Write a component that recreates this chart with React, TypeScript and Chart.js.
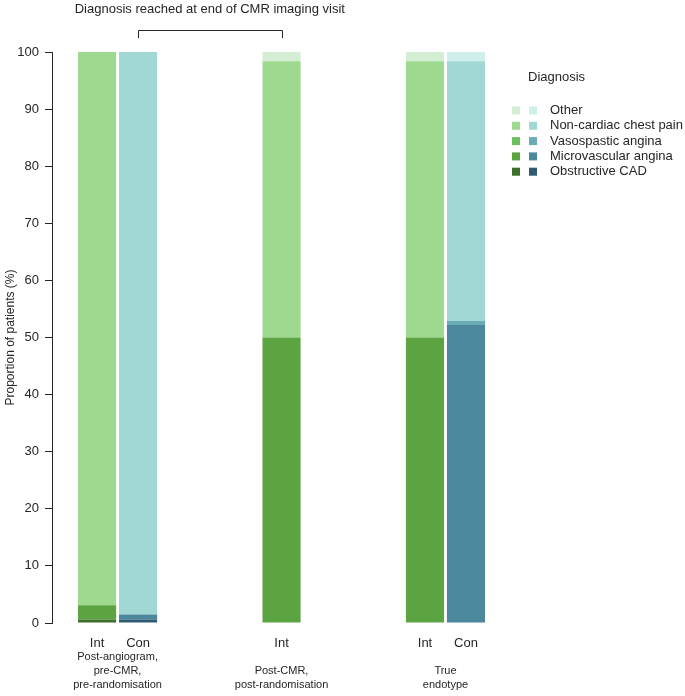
import React, { useRef, useEffect } from 'react';
import { Chart, registerables } from 'chart.js';

Chart.register(...registerables);

// bar slots on a linear x axis (units of one bar width + gap)
const barPositions = [0, 1, 4.5, 8, 9];
const barLabels = ['Int', 'Con', 'Int', 'Int', 'Con'];
const groupPositions = [0.5, 4.5, 8.5];
const groupLabels = [
  ['Post-angiogram,', 'pre-CMR,', 'pre-randomisation'],
  ['', 'Post-CMR,', 'post-randomisation'],
  ['', 'True', 'endotype'],
];

// proportions (%) per bar, bottom to top of each stack
const obstructiveCAD = [0.6, 0.6, 0, 0, 0];
const microvascularAngina = [2.5, 0.9, 50.0, 50.0, 52.2];
const vasospasticAngina = [0, 0, 0, 0, 0.7];
const nonCardiacChestPain = [96.9, 98.5, 48.4, 48.4, 45.5];
const otherDiagnosis = [0, 0, 1.6, 1.6, 1.6];

const diagnosisNames = [
  'Obstructive CAD',
  'Microvascular angina',
  'Vasospastic angina',
  'Non-cardiac chest pain',
  'Other',
];
const intColours = ['#3e6e2b', '#5ca341', '#6cc05b', '#9dda8f', '#d3eed2'];
const conColours = ['#2e5a74', '#4c889c', '#6aabb6', '#a1d7d4', '#d0efec'];

const chartTitle = 'Diagnosis reached at end of CMR imaging visit';
const legendTitle = 'Diagnosis';

const FONT = "'Liberation Sans', Arial, sans-serif";
const INK = '#262626';

const overlayPlugin = {
  id: 'overlay',
  afterDraw(chart: any) {
    const ctx = chart.ctx as CanvasRenderingContext2D;
    const xs = chart.scales.x;
    ctx.save();

    // bracket + title over the first comparison
    const x1 = xs.getPixelForValue(barPositions[1]);
    const x2 = xs.getPixelForValue(barPositions[2]);
    ctx.strokeStyle = INK;
    ctx.lineWidth = 1;
    ctx.beginPath();
    ctx.moveTo(Math.round(x1) + 0.5, 38);
    ctx.lineTo(Math.round(x1) + 0.5, 30.5);
    ctx.lineTo(Math.round(x2) + 0.5, 30.5);
    ctx.lineTo(Math.round(x2) + 0.5, 38);
    ctx.stroke();

    ctx.fillStyle = INK;
    ctx.font = `13px ${FONT}`;
    ctx.textAlign = 'center';
    ctx.textBaseline = 'middle';
    ctx.fillText(chartTitle, (x1 + x2) / 2, 9);

    // legend with two swatch columns (Int green, Con blue)
    ctx.textAlign = 'left';
    ctx.fillText(legendTitle, 528, 77);
    const rowTop = 110.5;
    const rowGap = 15.3;
    for (let k = diagnosisNames.length - 1, r = 0; k >= 0; k--, r++) {
      const cy = rowTop + r * rowGap;
      ctx.fillStyle = intColours[k];
      ctx.fillRect(512, cy - 4, 8, 8);
      ctx.fillStyle = conColours[k];
      ctx.fillRect(529, cy - 4, 8, 8);
      ctx.fillStyle = INK;
      ctx.fillText(diagnosisNames[k], 550, cy);
    }
    ctx.restore();
  },
};

const App: React.FC = () => {
  const chartRef = useRef<HTMLCanvasElement>(null);
  const chartInstance = useRef<Chart | null>(null);

  useEffect(() => {
    if (!chartRef.current) return;
    const ctx = chartRef.current.getContext('2d');
    if (!ctx) return;
    if (chartInstance.current) chartInstance.current.destroy();

    Chart.defaults.font.family = FONT;
    Chart.defaults.color = INK;

    const series = [
      obstructiveCAD,
      microvascularAngina,
      vasospasticAngina,
      nonCardiacChestPain,
      otherDiagnosis,
    ];

    chartInstance.current = new Chart(ctx, {
      type: 'bar',
      data: {
        datasets: series.map((values, k) => ({
          label: diagnosisNames[k],
          data: barPositions.map((x, i) => ({ x, y: values[i] })),
          backgroundColor: barLabels.map((l) => (l === 'Int' ? intColours[k] : conColours[k])),
          borderWidth: 0,
          barPercentage: 1,
          categoryPercentage: 0.93,
        })),
      },
      options: {
        animation: false,
        responsive: false,
        layout: { padding: { top: 52, right: 185, bottom: 0, left: 0 } },
        plugins: {
          legend: { display: false },
          tooltip: { enabled: false },
        },
        scales: {
          x: {
            type: 'linear',
            stacked: true,
            offset: false,
            min: -1.1,
            max: 9.83,
            weight: 0,
            afterFit: (scale: any) => {
              scale.height = 27;
            },
            grid: { display: false, drawTicks: false },
            border: { display: false },
            afterBuildTicks: (scale: any) => {
              scale.ticks = barPositions.map((v) => ({ value: v }));
            },
            ticks: {
              autoSkip: false,
              maxRotation: 0,
              padding: 13,
              font: { size: 13 },
              color: INK,
              callback: (_v: any, i: number) => barLabels[i],
            },
          },
          x2: {
            type: 'linear',
            axis: 'x',
            position: 'bottom',
            offset: false,
            min: -1.1,
            max: 9.83,
            weight: 1,
            afterFit: (scale: any) => {
              scale.height = 46;
            },
            grid: { display: false, drawTicks: false },
            border: { display: false },
            afterBuildTicks: (scale: any) => {
              scale.ticks = groupPositions.map((v) => ({ value: v }));
            },
            ticks: {
              autoSkip: false,
              maxRotation: 0,
              padding: 0,
              font: { size: 11, lineHeight: 1.27 },
              color: INK,
              callback: (_v: any, i: number) => groupLabels[i],
            },
          },
          y: {
            stacked: true,
            min: 0,
            max: 100,
            afterFit: (scale: any) => {
              scale.width = 52;
            },
            grid: {
              drawOnChartArea: false,
              drawTicks: true,
              tickLength: 7,
              color: INK,
            },
            border: { display: true, color: INK },
            ticks: {
              stepSize: 10,
              padding: 6,
              font: { size: 13 },
              color: INK,
            },
            title: {
              display: true,
              text: 'Proportion of patients (%)',
              font: { size: 12 },
              color: INK,
              padding: 3,
            },
          },
        },
      },
      plugins: [overlayPlugin],
    } as any);

    return () => {
      if (chartInstance.current) {
        chartInstance.current.destroy();
        chartInstance.current = null;
      }
    };
  }, []);

  return (
    <div style={{ position: 'absolute', left: 0, top: 0, width: 685, height: 696, background: '#fff' }}>
      <canvas ref={chartRef} width={685} height={696} />
    </div>
  );
};

export default App;
